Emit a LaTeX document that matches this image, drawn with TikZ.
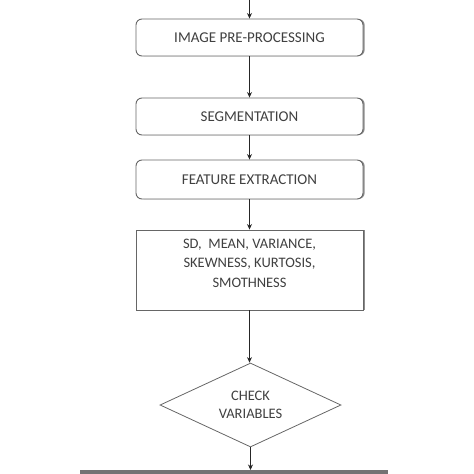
\documentclass[tikz,border=0pt]{standalone}
\usepackage{fontspec}
\setmainfont{Carlito}
\usetikzlibrary{arrows.meta,shapes.geometric,shadows}

\begin{document}
\begin{tikzpicture}[x=1pt,y=-1pt,
    stepbox/.style={draw=black!60,line width=0.9pt,rounded corners=6pt,fill=white,
      minimum width=227pt,minimum height=37pt,inner sep=0pt,
      drop shadow={shadow xshift=1.6pt,shadow yshift=0pt,fill=black!45,opacity=1},
      font=\fontsize{15}{18}\selectfont,text=black!75},
    databox/.style={stepbox,rounded corners=0pt,minimum height=80pt},
    checkbox/.style={draw=black!60,line width=0.8pt,diamond,aspect=2.15,
      minimum width=181pt,minimum height=84pt,inner sep=0pt,
      font=\fontsize{14.5}{18}\selectfont,text=black!75,align=center},
    flow/.style={->,>={Stealth[length=5.5pt,width=5pt]},line width=0.8pt,black!85}]
  \useasboundingbox (0,0) rectangle (474,474);

  \coordinate (Start) at (249.5,0);
  \node[stepbox] (PreProcessing) at (249.5,37.5) {IMAGE PRE-PROCESSING};
  \node[stepbox] (Segmentation) at (249.5,116.5) {SEGMENTATION};
  \node[stepbox,minimum height=39pt] (Features) at (249.5,179.5) {FEATURE EXTRACTION};
  \node[databox] (Stats) at (249.5,270) {};
  \node[font=\fontsize{14.5}{19.5}\selectfont,text=black!75,align=center] (StatsText) at (249.5,263)
    {SD, \ MEAN, VARIANCE,\\SKEWNESS, KURTOSIS,\\SMOTHNESS};
  \node[checkbox] (Check) at (250.5,405) {CHECK\\VARIABLES};
  \coordinate (Next) at (250.5,470);
  \fill[black!55] (80,470) rectangle (388,474);

  \draw[flow] (Start) -- (PreProcessing);
  \draw[flow] (PreProcessing) -- (Segmentation);
  \draw[flow] (Segmentation) -- (Features);
  \draw[flow] (Features) -- (Stats);
  \draw[flow] (Stats.south) -- (Stats.south |- Check.north);
  \draw[flow] (Check.south) -- (Next);
\end{tikzpicture}
\end{document}
